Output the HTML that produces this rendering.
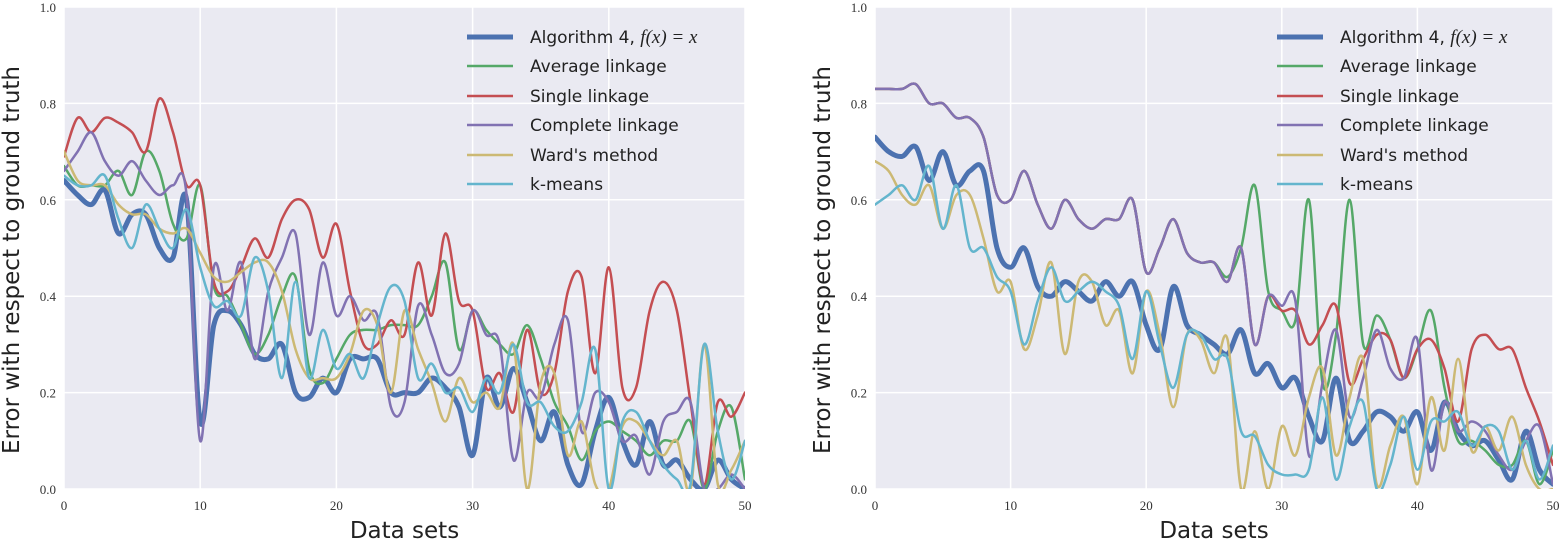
<!DOCTYPE html>
<html><head><meta charset="utf-8"><style>
html,body{margin:0;padding:0;background:#fff;}
svg{display:block;}
</style></head><body>
<svg id="fig" xmlns="http://www.w3.org/2000/svg" width="1567" height="544" viewBox="0 0 1567 544"></svg>
<script>
const xTicks=[0,10,20,30,40,50];
const yTicks=[0.0,0.2,0.4,0.6,0.8,1.0];
const seriesNames=["Algorithm 4, f(x) = x","Average linkage","Single linkage","Complete linkage","Ward's method","k-means"];
const L_alg=[0.64,0.61,0.59,0.62,0.53,0.57,0.57,0.50,0.48,0.60,0.14,0.34,0.37,0.34,0.28,0.27,0.30,0.20,0.19,0.23,0.20,0.27,0.27,0.27,0.20,0.20,0.20,0.23,0.21,0.17,0.07,0.23,0.17,0.25,0.18,0.10,0.16,0.05,0.01,0.12,0.19,0.10,0.05,0.14,0.05,0.06,0.02,0.00,0.06,0.02,0.00];
const L_avg=[0.67,0.63,0.63,0.63,0.66,0.61,0.70,0.66,0.55,0.52,0.63,0.42,0.40,0.34,0.28,0.32,0.40,0.44,0.25,0.22,0.27,0.32,0.33,0.33,0.34,0.34,0.34,0.40,0.47,0.29,0.37,0.33,0.30,0.28,0.34,0.27,0.18,0.13,0.06,0.12,0.14,0.12,0.10,0.07,0.10,0.10,0.14,0.00,0.12,0.17,0.02];
const L_single=[0.69,0.77,0.74,0.77,0.76,0.74,0.70,0.81,0.74,0.63,0.63,0.43,0.41,0.46,0.52,0.48,0.56,0.60,0.58,0.48,0.55,0.41,0.30,0.30,0.35,0.32,0.47,0.36,0.53,0.39,0.37,0.21,0.24,0.16,0.33,0.20,0.24,0.41,0.44,0.24,0.46,0.21,0.21,0.37,0.43,0.37,0.18,0.01,0.18,0.15,0.20];
const L_complete=[0.66,0.70,0.74,0.68,0.65,0.68,0.64,0.61,0.63,0.61,0.10,0.46,0.37,0.47,0.27,0.41,0.48,0.53,0.32,0.47,0.36,0.40,0.35,0.36,0.17,0.18,0.38,0.32,0.24,0.26,0.37,0.32,0.30,0.06,0.20,0.19,0.30,0.35,0.12,0.20,0.18,0.10,0.11,0.03,0.14,0.16,0.18,0.00,0.00,0.03,0.00];
const L_ward=[0.70,0.64,0.63,0.63,0.59,0.57,0.57,0.54,0.53,0.54,0.49,0.44,0.43,0.45,0.47,0.47,0.41,0.29,0.23,0.23,0.23,0.28,0.37,0.34,0.20,0.37,0.29,0.22,0.14,0.23,0.18,0.20,0.17,0.30,0.00,0.22,0.24,0.07,0.14,0.01,0.00,0.13,0.14,0.10,0.07,0.10,0.00,0.30,0.01,0.04,0.10];
const L_km=[0.65,0.63,0.63,0.65,0.56,0.50,0.59,0.54,0.50,0.58,0.46,0.38,0.39,0.36,0.48,0.41,0.23,0.43,0.23,0.33,0.25,0.28,0.23,0.34,0.42,0.39,0.23,0.26,0.20,0.21,0.16,0.23,0.20,0.30,0.18,0.18,0.13,0.12,0.18,0.29,0.00,0.14,0.16,0.10,0.05,0.02,0.01,0.30,0.12,0.02,0.10];
const R_alg=[0.73,0.70,0.69,0.71,0.64,0.70,0.63,0.66,0.66,0.50,0.46,0.50,0.42,0.40,0.43,0.41,0.39,0.43,0.40,0.43,0.34,0.29,0.42,0.34,0.32,0.30,0.28,0.33,0.24,0.26,0.21,0.23,0.15,0.10,0.23,0.10,0.12,0.16,0.15,0.12,0.16,0.08,0.18,0.12,0.09,0.10,0.06,0.02,0.12,0.04,0.01];
const R_complete=[0.83,0.83,0.83,0.84,0.80,0.80,0.77,0.77,0.73,0.61,0.60,0.66,0.59,0.54,0.60,0.56,0.54,0.56,0.56,0.60,0.45,0.50,0.56,0.49,0.47,0.47,0.43,0.50,0.30,0.40,0.38,0.39,0.07,0.22,0.33,0.15,0.23,0.33,0.25,0.23,0.31,0.04,0.18,0.12,0.14,0.12,0.07,0.04,0.10,0.13,0.01];
const R_avg=[0.83,0.83,0.83,0.84,0.80,0.80,0.77,0.77,0.73,0.61,0.60,0.66,0.59,0.54,0.60,0.56,0.54,0.56,0.56,0.60,0.45,0.50,0.56,0.49,0.47,0.47,0.44,0.50,0.63,0.41,0.37,0.35,0.60,0.22,0.32,0.60,0.30,0.36,0.31,0.23,0.29,0.37,0.21,0.10,0.10,0.08,0.05,0.05,0.10,0.01,0.08];
const R_single=[0.83,0.83,0.83,0.84,0.80,0.80,0.77,0.77,0.73,0.61,0.60,0.66,0.59,0.54,0.60,0.56,0.54,0.56,0.56,0.60,0.45,0.50,0.56,0.49,0.47,0.47,0.43,0.50,0.30,0.40,0.37,0.37,0.30,0.34,0.38,0.22,0.27,0.32,0.31,0.23,0.29,0.31,0.25,0.14,0.29,0.32,0.29,0.29,0.21,0.14,0.05];
const R_ward=[0.68,0.66,0.61,0.59,0.63,0.54,0.61,0.61,0.52,0.41,0.43,0.29,0.36,0.47,0.28,0.43,0.43,0.34,0.37,0.24,0.41,0.32,0.17,0.32,0.31,0.24,0.31,0.00,0.12,0.00,0.13,0.07,0.19,0.25,0.07,0.19,0.27,0.01,0.09,0.15,0.01,0.19,0.08,0.27,0.08,0.13,0.08,0.15,0.05,0.00,0.00];
const R_km=[0.59,0.61,0.63,0.60,0.67,0.54,0.63,0.50,0.50,0.44,0.41,0.30,0.39,0.46,0.39,0.41,0.43,0.41,0.38,0.27,0.41,0.30,0.21,0.32,0.32,0.27,0.27,0.12,0.11,0.05,0.03,0.03,0.04,0.19,0.02,0.13,0.18,0.00,0.05,0.15,0.04,0.14,0.14,0.16,0.09,0.13,0.12,0.04,0.10,0.02,0.09];

const NS="http://www.w3.org/2000/svg";
const svg=document.getElementById('fig');
const colors=["#4C72B0","#55A868","#C44E52","#8172B2","#CCB974","#64B5CD"];
const widths=[5,2.5,2.5,2.5,2.5,2.5];
function mk(tag,attrs,parent){const e=document.createElementNS(NS,tag);for(const k in attrs)e.setAttribute(k,attrs[k]);(parent||svg).appendChild(e);return e;}

function panel(idx,x0,x1,series,legendX){
  const y0=489,y1=7;
  const sx=v=>x0+(v-0)/(50-0)*(x1-x0);
  const sy=v=>y0-(v-0)/(1-0)*(y0-y1);
  const g=mk('g',{});
  
  
  const bg=mk('rect',{x:x0,y:y1,width:x1-x0,height:y0-y1,fill:'#EAEAF2'},g);
  
  
  const cid='clip'+idx;
  const cp=mk('clipPath',{id:cid},g);mk('rect',{x:x0,y:y1,width:x1-x0,height:y0-y1},cp);
  xTicks.forEach(t=>{
    const ln=mk('line',{x1:sx(t),x2:sx(t),y1:y1,y2:y0,stroke:'#fff','stroke-width':1.5},g);
    
    
    const tx=mk('text',{x:sx(t),y:510,'text-anchor':'middle','font-family':'"Liberation Serif",serif','font-size':13,fill:'#333'},g);
    tx.textContent=String(t);
    
    
  });
  yTicks.forEach(t=>{
    const ln=mk('line',{x1:x0,x2:x1,y1:sy(t),y2:sy(t),stroke:'#fff','stroke-width':1.5},g);
    
    
    const tx=mk('text',{x:x0-8,y:sy(t)+5,'text-anchor':'end','font-family':'"Liberation Serif",serif','font-size':13,fill:'#333'},g);
    tx.textContent=t.toFixed(1);
    
    
  });
  const lg=mk('g',{'clip-path':'url(#'+cid+')'},g);
  series.forEach((arr,si)=>{
    const pts=arr.map((v,i)=>[sx(i),sy(v)]);
    let d='M'+pts[0][0].toFixed(1)+','+pts[0][1].toFixed(1);
    for(let i=0;i<pts.length-1;i++){
      const p0=pts[Math.max(0,i-1)],p1=pts[i],p2=pts[i+1],p3=pts[Math.min(pts.length-1,i+2)];
      const c1=[p1[0]+(p2[0]-p0[0])/6,p1[1]+(p2[1]-p0[1])/6];
      const c2=[p2[0]-(p3[0]-p1[0])/6,p2[1]-(p3[1]-p1[1])/6];
      d+=' C'+c1[0].toFixed(1)+','+c1[1].toFixed(1)+' '+c2[0].toFixed(1)+','+c2[1].toFixed(1)+' '+p2[0].toFixed(1)+','+p2[1].toFixed(1);
    }
    const p=mk('path',{d:d,fill:'none',stroke:colors[si],'stroke-width':widths[si],'stroke-linejoin':'round','stroke-linecap':'round'},lg);
    
    
  });
  const rows=[37,66,96,125,155,184];
  seriesNames.forEach((n,si)=>{
    const ln=mk('line',{x1:legendX,x2:legendX+46,y1:rows[si],y2:rows[si],stroke:colors[si],'stroke-width':widths[si]},g);
    
    
    const tx=mk('text',{x:legendX+63,y:rows[si]+6,'font-family':'"DejaVu Sans","Liberation Sans",sans-serif','font-size':17,fill:'#222'},g);
    if(si===0){
      tx.textContent='Algorithm 4, ';
      const ts=mk('tspan',{'font-family':'"Liberation Serif",serif','font-style':'italic','font-size':19},tx);
      ts.textContent='f(x) = x';
    } else tx.textContent=n;
    
    
  });
  const xl=mk('text',{x:(x0+x1)/2,y:538,'text-anchor':'middle','font-family':'"DejaVu Sans","Liberation Sans",sans-serif','font-size':23,fill:'#222'},g);
  xl.textContent='Data sets';
  
  
  const yx=x0-45, yc=260;
  const yl=mk('text',{x:yx,y:yc,'text-anchor':'middle','font-family':'"DejaVu Sans","Liberation Sans",sans-serif','font-size':23,fill:'#222',transform:'rotate(-90 '+yx+' '+yc+')'},g);
  yl.textContent='Error with respect to ground truth';
  
  
}
panel(1,64,745,[L_alg,L_avg,L_single,L_complete,L_ward,L_km],467);
panel(2,875,1553,[R_alg,R_avg,R_single,R_complete,R_ward,R_km],1277);
</script>
</body></html>
